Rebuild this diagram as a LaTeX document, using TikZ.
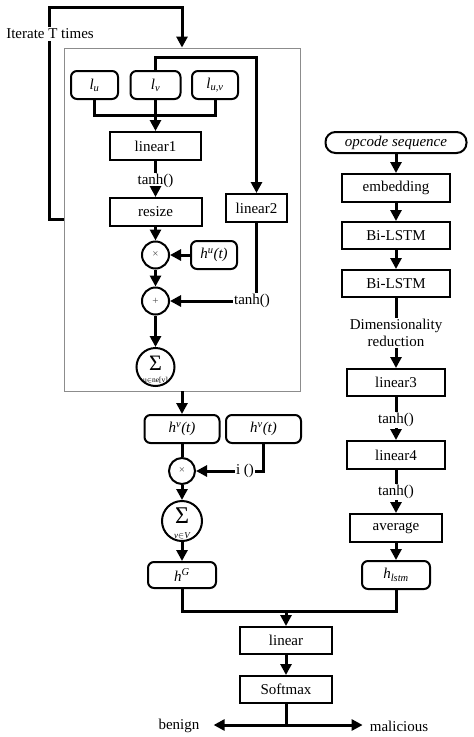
\documentclass[tikz,border=0pt]{standalone}
\usepackage{fontspec}
\setmainfont{Liberation Serif}
\usetikzlibrary{arrows.meta}
\begin{document}
\begin{tikzpicture}[x=1pt,y=-1pt,font=\fontsize{15}{17}\selectfont,
  box/.style={draw,line width=2pt,minimum height=28pt,inner sep=0pt},
  rbox/.style={box,rounded corners=6pt},
  opc/.style={circle,draw,line width=2pt,minimum size=27pt,inner sep=0pt},
  conn/.style={line width=3pt},
  arr/.style={conn,-{Triangle[length=11pt,width=11pt]}},
  lbl/.style={inner sep=2pt,fill=white},
  tiny/.style={font=\fontsize{7.5}{8}\selectfont,inner sep=0pt}]
\useasboundingbox (0,0) rectangle (474,737);
% big iterate box
\node[draw=black!45,line width=0.9pt,minimum width=236pt,minimum height=343pt,inner sep=0pt] (big) at (182,219.5) {};
% loop
\coordinate (lpA) at (49,219.5);
\coordinate (lpB) at (49,7);
\coordinate (lpC) at (182,7);
\draw[arr] (big.west) -- (lpA) -- (lpB) -- (lpC) -- (big.north);
\node[lbl] (iter) at (50,34) {Iterate T times};
% inputs
\node[rbox,minimum width=47pt] (lu) at (94.5,85) {\textit{l}\textsubscript{\textit{u}}};
\node[rbox,minimum width=50pt] (lv) at (155.5,85) {\textit{l}\textsubscript{\textit{v}}};
\node[rbox,minimum width=46pt] (luv) at (215,85) {\textit{l}\textsubscript{\textit{u,v}}};
\node[box,minimum width=91pt] (lin1) at (155.5,146) {linear1};
\node[inner sep=1pt] (t1) at (155.5,181) {tanh()};
\node[box,minimum width=92pt] (resize) at (155.5,212) {resize};
\node[box,minimum width=61pt] (lin2) at (256.5,208) {linear2};
\node[opc] (mul1) at (155.5,255) {\fontsize{11}{11}\selectfont\color{black!70}×};
\node[rbox,minimum width=46pt] (hut) at (214,255) {\textit{h}\textsuperscript{\textit{u}}\textit{(t)}};
\node[opc] (add) at (155.5,301) {\fontsize{11}{11}\selectfont\color{black!70}+};
\node[inner sep=1pt] (t2) at (252,301) {tanh()};
\node[opc,minimum size=38pt] (sum1) at (155.5,367) {};
\node[inner sep=0pt,font=\fontsize{22}{22}\selectfont] (sig1) at (155.5,363) {Σ};
\node[tiny] (sub1) at (155.5,380) {u$\in$ne[v]};
% connectors inside
\coordinate (top) at (155.5,57);
\coordinate (topR) at (256.5,57);
\draw[arr] (lv.north) -- (top) -- (topR) -- (lin2.north);
\coordinate (jl) at (94.5,115);
\coordinate (jr) at (215,115);
\draw[conn] (lu.south) -- (jl) -- (jr) -- (luv.south);
\draw[arr] (lv.south) -- (lin1.north);
\draw[conn] (lin1.south) -- (t1.north);
\draw[arr] (t1.south) -- (resize.north);
\draw[arr] (resize.south) -- (mul1.north);
\draw[arr] (hut.west) -- (mul1.east);
\draw[arr] (mul1.south) -- (add.north);
\draw[conn] (lin2.south) -- (lin2.south |- t2.north);
\draw[arr] (t2.west) -- (add.east);
\draw[arr] (add.south) -- (sum1.north);
% graph readout
\node[rbox,minimum width=75pt] (hv1) at (182,429) {\textit{h}\textsuperscript{\textit{v}}\textit{(t)}};
\node[rbox,minimum width=75pt] (hv2) at (263.5,429) {\textit{h}\textsuperscript{\textit{v}}\textit{(t)}};
\node[opc,minimum size=26pt] (mul2) at (182,471) {\fontsize{11}{11}\selectfont\color{black!70}×};
\node[inner sep=1pt] (il) at (245,471) {i ()};
\node[opc,minimum size=40pt] (sum2) at (182,521) {};
\node[inner sep=0pt,font=\fontsize{24}{24}\selectfont] (sig2) at (182,516) {Σ};
\node[tiny,font=\fontsize{9}{9}\selectfont\itshape] (sub2) at (182,536) {v$\in$V};
\node[rbox,minimum width=68pt,minimum height=26pt] (hG) at (182,575) {\textit{h}\textsuperscript{\textit{G}}};
\draw[arr] (big.south) -- (hv1.north);
\draw[conn] (hv1.south) -- (mul2.north);
\draw[conn] (hv2.south) -- (hv2.south |- il.east) -- (il.east);
\draw[arr] (il.west) -- (mul2.east);
\draw[arr] (mul2.south) -- (sum2.north);
\draw[arr] (sum2.south) -- (hG.north);
% right column
\node[draw,line width=2pt,rounded corners=10pt,minimum width=141pt,minimum height=21pt,inner sep=0pt] (ops) at (396,142.5) {\textit{opcode sequence}};
\node[box,minimum width=108pt] (emb) at (396,188) {embedding};
\node[box,minimum width=108pt,minimum height=27pt] (bl1) at (396,235.5) {Bi-LSTM};
\node[box,minimum width=108pt,minimum height=27pt] (bl2) at (396,283.5) {Bi-LSTM};
\node[align=center,inner sep=1pt] (dim) at (396,333) {Dimensionality\\reduction};
\node[box,minimum width=98pt,minimum height=27pt] (lin3) at (396,382.5) {linear3};
\node[inner sep=1pt] (t3) at (396,420) {tanh()};
\node[box,minimum width=98pt] (lin4) at (396,455) {linear4};
\node[inner sep=1pt] (t4) at (396,492) {tanh()};
\node[box,minimum width=92pt] (avg) at (396,528) {average};
\node[rbox,minimum width=68pt] (hl) at (396,575) {\textit{h}\textsubscript{\textit{lstm}}};
\draw[arr] (ops.south) -- (emb.north);
\draw[arr] (emb.south) -- (bl1.north);
\draw[arr] (bl1.south) -- (bl2.north);
\draw[conn] (bl2.south) -- (dim.north);
\draw[arr] (dim.south) -- (lin3.north);
\draw[conn] (lin3.south) -- (t3.north);
\draw[arr] (t3.south) -- (lin4.north);
\draw[conn] (lin4.south) -- (t4.north);
\draw[arr] (t4.south) -- (avg.north);
\draw[arr] (avg.south) -- (hl.north);
% merge
\node[box,minimum width=92pt,minimum height=27pt] (lin) at (286,640.5) {linear};
\node[box,minimum width=92pt,minimum height=27pt] (soft) at (286,689.5) {Softmax};
\coordinate (j) at (286,611);
\draw[conn] (hG.south) -- (hG.south |- j) -- (hl.south |- j) -- (hl.south);
\draw[arr] (j) -- (lin.north);
\draw[arr] (lin.south) -- (soft.north);
\node[inner sep=0pt,inner xsep=14pt] (ben) at (179,726) {benign};
\node[inner sep=0pt,inner xsep=7pt] (mal) at (399,726) {malicious};
\coordinate (k) at (286,725);
\draw[conn] (soft.south) -- (k);
\draw[arr] (k) -- (ben.east |- k);
\draw[arr] (k) -- (mal.west |- k);
\end{tikzpicture}
\end{document}
